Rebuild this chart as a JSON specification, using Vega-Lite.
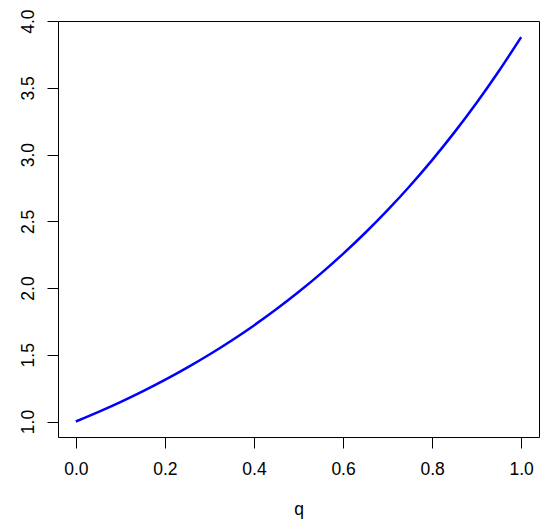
{
  "$schema": "https://vega.github.io/schema/vega-lite/v6.json",
  "width": 481,
  "height": 416,
  "autosize": {"type": "none"},
  "padding": {"left": 58, "top": 21, "right": 11, "bottom": 88},
  "background": "white",
  "config": {
    "view": {"stroke": "black", "strokeWidth": 1},
    "font": "Liberation Sans",
    "axis": {
      "grid": false,
      "domain": false,
      "ticks": true,
      "tickColor": "black",
      "tickSize": 11,
      "tickWidth": 1,
      "labelColor": "black",
      "labelFont": "Liberation Sans",
      "labelFontSize": 17.5,
      "titleFont": "Liberation Sans",
      "titleFontSize": 17.5,
      "titleFontWeight": "normal",
      "titleColor": "black"
    }
  },
  "data": {
    "values": [
      {"q": 0.0, "v": 1.0},
      {"q": 0.05, "v": 1.0702},
      {"q": 0.1, "v": 1.1452},
      {"q": 0.15, "v": 1.2256},
      {"q": 0.2, "v": 1.3115},
      {"q": 0.25, "v": 1.4035},
      {"q": 0.3, "v": 1.502},
      {"q": 0.35, "v": 1.6074},
      {"q": 0.4, "v": 1.7201},
      {"q": 0.45, "v": 1.8408},
      {"q": 0.5, "v": 1.9699},
      {"q": 0.55, "v": 2.1081},
      {"q": 0.6, "v": 2.256},
      {"q": 0.65, "v": 2.4143},
      {"q": 0.7, "v": 2.5837},
      {"q": 0.75, "v": 2.7649},
      {"q": 0.8, "v": 2.9588},
      {"q": 0.85, "v": 3.1664},
      {"q": 0.9, "v": 3.3886},
      {"q": 0.95, "v": 3.6263},
      {"q": 1.0, "v": 3.8807}
    ]
  },
  "mark": {"type": "line", "color": "#0000FF", "strokeWidth": 2.5, "interpolate": "monotone"},
  "encoding": {
    "x": {
      "field": "q",
      "type": "quantitative",
      "scale": {"domain": [-0.04, 1.04], "nice": false, "zero": false},
      "axis": {
        "title": "q",
        "values": [0, 0.2, 0.4, 0.6, 0.8, 1.0],
        "format": ".1f",
        "labelPadding": 12,
        "titlePadding": 23
      }
    },
    "y": {
      "field": "v",
      "type": "quantitative",
      "scale": {"domain": [0.884, 4.001], "nice": false, "zero": false},
      "axis": {
        "title": null,
        "values": [1, 1.5, 2, 2.5, 3, 3.5, 4],
        "format": ".1f",
        "labelAngle": 270,
        "labelAlign": "center",
        "labelBaseline": "bottom",
        "labelPadding": 10
      }
    }
  }
}
